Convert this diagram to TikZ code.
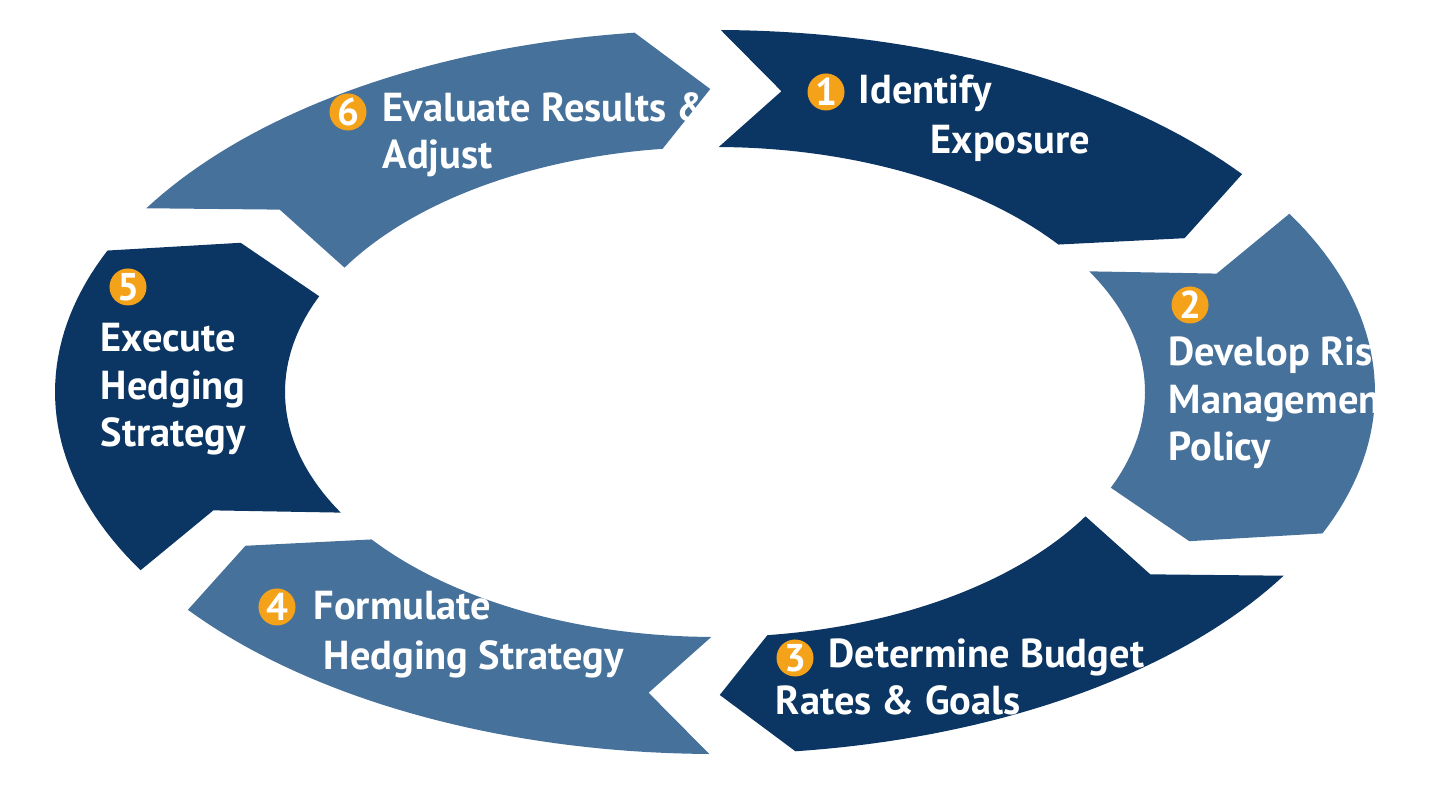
\documentclass[tikz,border=0pt]{standalone}
\usepackage{fontspec}
\setmainfont{PT Sans}
\usetikzlibrary{positioning}
\definecolor{navy}{HTML}{0B3562}
\definecolor{steel}{HTML}{46719A}
\definecolor{badge}{HTML}{F5A21B}
\tikzset{
  numdot/.style={circle,fill=badge,text=white,inner sep=0pt,minimum size=0.37cm,font=\bfseries\fontsize{11}{11}\selectfont},
  steptext/.style={text=white,anchor=base west,inner sep=0pt,font=\bfseries\fontsize{11.5}{11.5}\selectfont}
}
% ring segment: #1 tail angle, #2 head angle, #3 colour
\newcommand{\ringseg}[3]{%
  \fill[#3] plot[domain=#1:#2+6.5,samples=40] ({715+660*cos(\x)},{412+362*sin(\x)})
    -- ({715+545*cos(#2)},{412+303*sin(#2)})
    -- plot[domain=#2+6.5:#1,samples=40] ({715+430*cos(\x)},{412+245*sin(\x)})
    -- ({715+545*cos(#1-6.5)},{412+303*sin(#1-6.5)}) -- cycle;}
\begin{document}
\begin{tikzpicture}[x=0.01cm,y=0.01cm]
  \useasboundingbox (0,0) rectangle (1440,804);
  \ringseg{89.5}{30.5}{navy}
  \ringseg{29.5}{-29.5}{steel}
  \ringseg{-30.5}{-89.5}{navy}
  \ringseg{-90.5}{-149.5}{steel}
  \ringseg{-150.5}{-209.5}{navy}
  \ringseg{149.5}{90.5}{steel}
  % step 1
  \node[numdot] (n1) at (826,712) {1};
  \node[steptext] (t1a) at (858,700) {Identify};
  \node[steptext] (t1b) at (930,650) {Exposure};
  % step 2
  \node[numdot] (n2) at (1190,499) {2};
  \node[steptext] (t2a) at (1168,438) {Develop Risk};
  \node[steptext] (t2b) at (1168,390) {Management};
  \node[steptext] (t2c) at (1168,343) {Policy};
  % step 3
  \node[numdot] (n3) at (795,146) {3};
  \node[steptext] (t3a) at (828,136) {Determine Budget};
  \node[steptext] (t3b) at (775,89) {Rates \& Goals};
  % step 4
  \node[numdot] (n4) at (277,197) {4};
  \node[steptext] (t4a) at (313,184) {Formulate};
  \node[steptext] (t4b) at (323,134) {Hedging Strategy};
  % step 5
  \node[numdot] (n5) at (128,517) {5};
  \node[steptext] (t5a) at (100,452) {Execute};
  \node[steptext] (t5b) at (100,404) {Hedging};
  \node[steptext] (t5c) at (100,357) {Strategy};
  % step 6
  \node[numdot] (n6) at (348,692) {6};
  \node[steptext] (t6a) at (382,682) {Evaluate Results \&};
  \node[steptext] (t6b) at (382,635) {Adjust};
\end{tikzpicture}
\end{document}
